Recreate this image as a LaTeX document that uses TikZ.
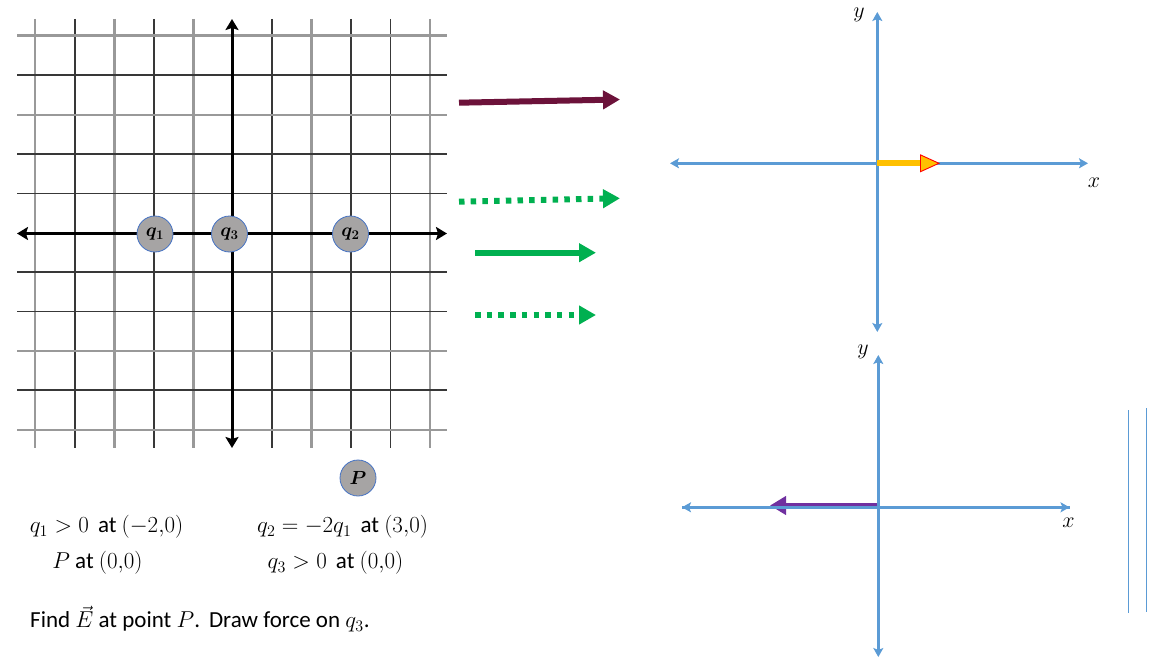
\RequirePackage{fix-cm}
\documentclass[tikz,border=0pt]{standalone}
\usepackage{fontspec}
\setmainfont{Carlito}
\usepackage{bm}
\usetikzlibrary{arrows.meta}
\definecolor{gridd}{gray}{0.22}
\definecolor{gridl}{gray}{0.6}
\definecolor{chfill}{RGB}{166,164,164}
\definecolor{chline}{RGB}{68,114,196}
\definecolor{maroon}{RGB}{108,18,58}
\definecolor{grn}{RGB}{0,176,80}
\definecolor{axblue}{RGB}{91,155,213}
\definecolor{yel}{RGB}{255,192,0}
\definecolor{purp}{RGB}{112,48,160}
\tikzset{
  gdark/.style={gridd, line width=1.3pt},
  glight/.style={gridl, line width=2.4pt},
  blackaxis/.style={black, line width=3pt, {Stealth[length=11pt,width=13pt,inset=2pt]}-{Stealth[length=11pt,width=13pt,inset=2pt]}},
  blueaxis/.style={axblue, line width=2.8pt, {Stealth[length=9pt,width=10pt,inset=2pt]}-{Stealth[length=9pt,width=10pt,inset=2pt]}},
  charge/.style={circle, fill=chfill, draw=chline, line width=0.8pt, minimum size=36pt, inner sep=0pt, font=\fontsize{19}{22}\selectfont},
  vecarrow/.style={line width=6pt, -{Triangle[length=17pt,width=18pt]}},
  dotted green/.style={grn, line width=6pt, dash pattern=on 5.5pt off 6.2pt, -{Triangle[length=17pt,width=18pt]}},
  txt/.style={font=\fontsize{23}{27}\selectfont, inner sep=0pt},
  axlabel/.style={font=\fontsize{22}{26}\selectfont, inner sep=0pt}
}
\begin{document}
\begin{tikzpicture}[x=1pt,y=-1pt]
\useasboundingbox (0,0) rectangle (1158,658);
% grid
\foreach \xx in {35,114.5,193.5,311.5,430} \draw[glight] (\xx,19) -- (\xx,448);
\foreach \xx in {75,154,272,351,390.5} \draw[gdark] (\xx,19) -- (\xx,448);
\foreach \yy in {35.5,115,351,430} \draw[glight] (17,\yy) -- (447,\yy);
\foreach \yy in {75,154,193.5,272,311.5,390} \draw[gdark] (17,\yy) -- (447,\yy);
% grid axes
\coordinate (gxl) at (17,233.5);
\coordinate (gxr) at (447,233.5);
\coordinate (gyt) at (232,19);
\coordinate (gyb) at (232,448);
\draw[blackaxis] (gxl) -- (gxr);
\draw[blackaxis] (gyt) -- (gyb);
% charges
\node[charge] (q1) at (155,234) {$\bm{q_1}$};
\node[charge] (q3) at (229.5,234) {$\bm{q_3}$};
\node[charge] (q2) at (350.5,234) {$\bm{q_2}$};
\node[charge] (P) at (358,478) {$\bm{P}$};
% texts
\node[txt] (t1) at (106.5,527) {$q_1 > 0$\ \,at $(-2{,}0)$};
\node[txt] (t2) at (97.5,563) {$P$ at $(0{,}0)$};
\node[txt] (t3) at (342.5,527) {$q_2 = -2q_1$\ \,at $(3{,}0)$};
\node[txt] (t4) at (335.5,563) {$q_3 > 0$\ \,at $(0{,}0)$};
\node[txt, anchor=west] (t5) at (30,619) {Find $\vec{E}$ at point $P$.\ \,Draw force on $q_3$.};
% middle arrows
\coordinate (m1a) at (459,102.7); \coordinate (m1b) at (620,99.5);
\coordinate (m2a) at (459,201.7); \coordinate (m2b) at (620,198.3);
\coordinate (m3a) at (475,252.7); \coordinate (m3b) at (596,252.7);
\coordinate (m4a) at (475,315); \coordinate (m4b) at (596,315);
\draw[vecarrow, maroon] (m1a) -- (m1b);
\draw[dotted green] (m2a) -- (m2b);
\draw[vecarrow, grn] (m3a) -- (m3b);
\draw[dotted green] (m4a) -- (m4b);
% top right axes
\coordinate (ax1l) at (670,163.3); \coordinate (ax1r) at (1088,163.3);
\coordinate (ay1t) at (877.3,12); \coordinate (ay1b) at (877.3,332);
\draw[blueaxis] (ax1l) -- (ax1r);
\draw[blueaxis] (ay1t) -- (ay1b);
\node[axlabel] (xl1) at (1094,183) {$x$};
\node[axlabel] (yl1) at (859,15) {$y$};
\coordinate (o1) at (877.3,163.3); \coordinate (e1) at (940,163.3);
\draw[yel, line width=6pt, -{Triangle[length=20pt,width=18pt,fill=yel,color=red,line width=0.9pt]}] (o1) -- (e1);
% bottom right axes
\coordinate (ax2l) at (682,507.3); \coordinate (ax2r) at (1069.5,507.3);
\coordinate (ay2t) at (878.3,355); \coordinate (ay2b) at (878.3,657);
\draw[blueaxis] (ax2l) -- (ax2r);
\draw[blueaxis] (ay2t) -- (ay2b);
\node[axlabel] (xl2) at (1068.5,523) {$x$};
\node[axlabel] (yl2) at (863,352) {$y$};
\coordinate (o2) at (877,505.5); \coordinate (e2) at (770,505.5);
\draw[purp, line width=5pt, -{Triangle[length=16pt,width=18pt]}] (o2) -- (e2);
\draw[axblue, line width=2.8pt] (ax2l) -- (ax2r);
% thin vertical lines
\coordinate (v1a) at (1128.3,410); \coordinate (v1b) at (1128.3,613.3);
\coordinate (v2a) at (1146,408.3); \coordinate (v2b) at (1146,611.7);
\draw[axblue, line width=1pt] (v1a) -- (v1b);
\draw[axblue, line width=1pt] (v2a) -- (v2b);
\end{tikzpicture}
\end{document}
